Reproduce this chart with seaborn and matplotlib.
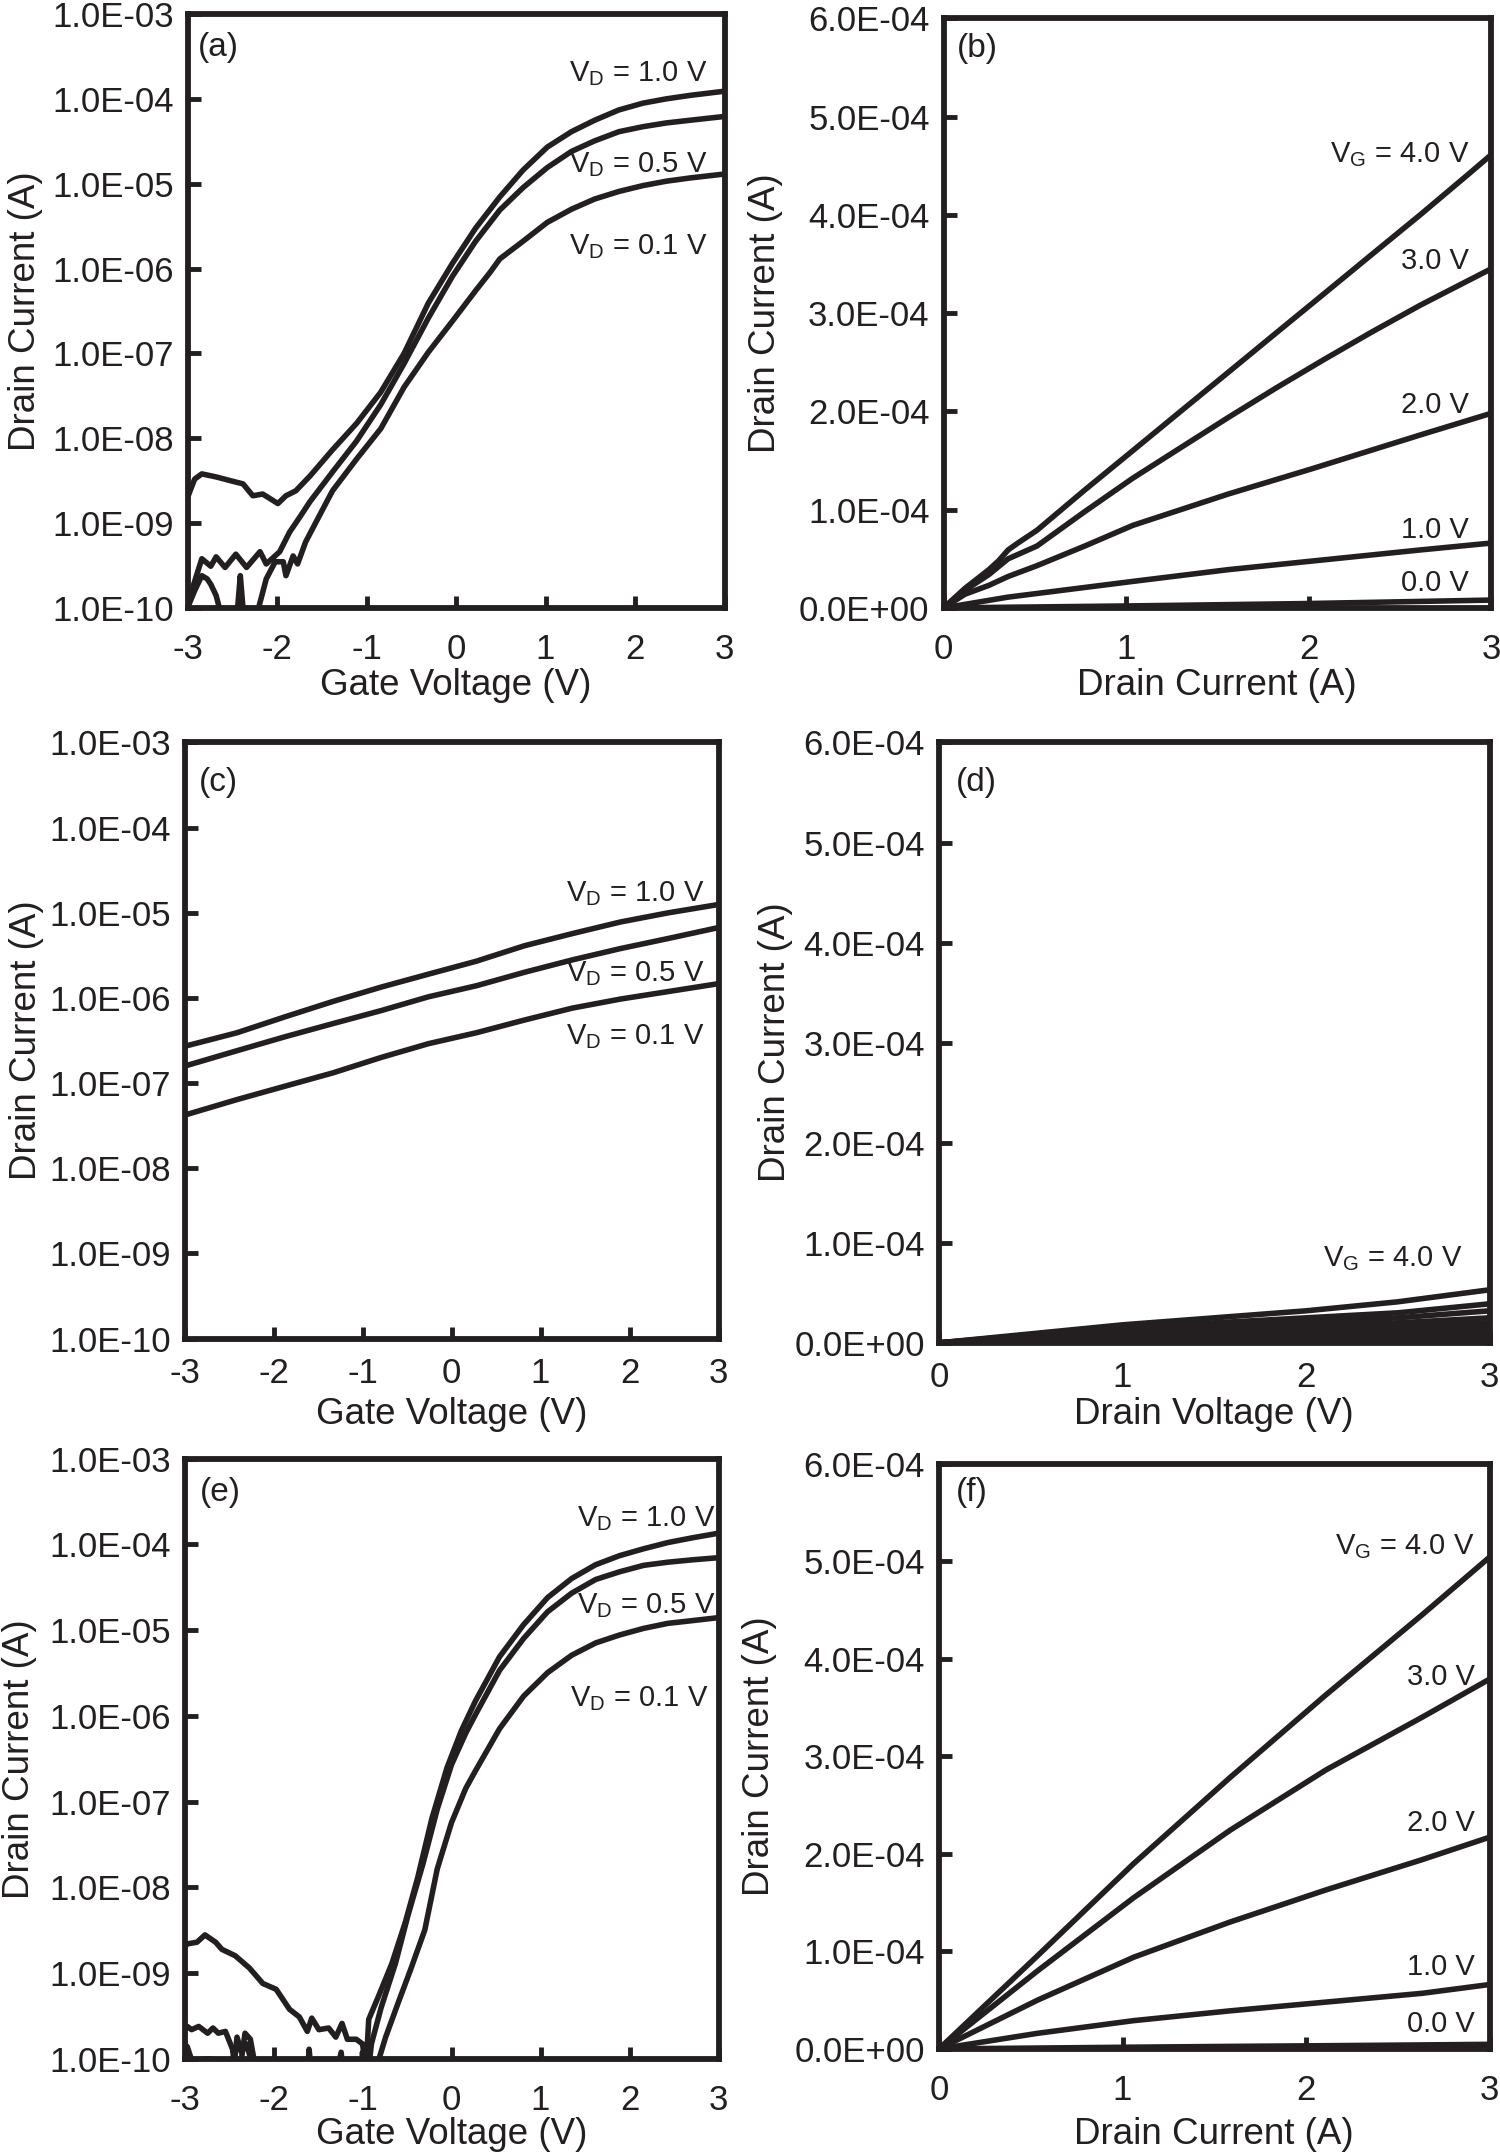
import numpy as np
import pandas as pd
import matplotlib
matplotlib.use("Agg")
import matplotlib.pyplot as plt
import seaborn as sns
from matplotlib.ticker import FixedLocator, NullLocator, FuncFormatter

# ---------------- data ----------------
# Panel (a): transfer curves (log scale)
a_vg_10 = [-3.0, -2.92, -2.84, -2.68, -2.49, -2.38, -2.27, -2.16, -1.99, -1.90, -1.79, -1.63, -1.38, -1.11,
           -0.84, -0.58, -0.31, -0.04, 0.22, 0.49, 0.75, 1.02, 1.29, 1.55, 1.82, 2.09, 2.35, 2.62, 3.0]
a_id_10 = [2.0e-9, 3.3e-9, 3.8e-9, 3.5e-9, 3.1e-9, 2.9e-9, 2.1e-9, 2.2e-9, 1.7e-9, 2.1e-9, 2.4e-9, 3.6e-9,
           7.3e-9, 1.5e-8, 3.5e-8, 1.0e-7, 3.9e-7, 1.15e-6, 3.0e-6, 7.0e-6, 1.45e-5, 2.7e-5, 4.1e-5, 5.6e-5,
           7.4e-5, 8.9e-5, 1.0e-4, 1.1e-4, 1.23e-4]
a_vg_05 = [-3.0, -2.97, -2.84, -2.74, -2.68, -2.58, -2.46, -2.34, -2.19, -2.12, -1.97, -1.86, -1.74, -1.63,
           -1.38, -1.11, -0.84, -0.58, -0.31, -0.04, 0.22, 0.49, 0.75, 1.02, 1.29, 1.55, 1.82, 2.09, 2.35,
           2.62, 3.0]
a_id_05 = [1.0e-10, 1.4e-10, 3.8e-10, 3.1e-10, 4.0e-10, 3.0e-10, 4.3e-10, 3.0e-10, 4.6e-10, 3.3e-10,
           4.6e-10, 7.8e-10, 1.2e-9, 1.8e-9, 4.0e-9, 9.3e-9, 2.5e-8, 7.6e-8, 2.6e-7, 8.1e-7, 2.1e-6, 4.9e-6,
           9.0e-6, 1.55e-5, 2.4e-5, 3.2e-5, 4.1e-5, 4.7e-5, 5.2e-5, 5.6e-5, 6.2e-5]
a_vg_01 = [-3.0, -2.92, -2.84, -2.78, -2.74, -2.68, -2.62, -2.50, -2.44, -2.41, -2.38, -2.32, -2.23, -2.12,
           -2.02, -1.93, -1.90, -1.82, -1.77, -1.68, -1.57, -1.38, -1.11, -0.84, -0.58, -0.31, -0.04, 0.22,
           0.38, 0.49, 0.75, 1.02, 1.29, 1.55, 1.82, 2.09, 2.35, 2.62, 3.0]
a_id_01 = [1.0e-10, 1.6e-10, 2.4e-10, 2.2e-10, 1.9e-10, 1.4e-10, 8e-11, 4e-11, 1.0e-10, 2.4e-10, 1.0e-10,
           4e-11, 8e-11, 2.2e-10, 3.5e-10, 3.5e-10, 2.4e-10, 4.1e-10, 3.3e-10, 6.0e-10, 1.0e-9, 2.4e-9,
           5.7e-9, 1.3e-8, 4.0e-8, 1.03e-7, 2.4e-7, 5.5e-7, 9.0e-7, 1.3e-6, 2.1e-6, 3.5e-6, 5.0e-6, 6.6e-6,
           8.1e-6, 9.5e-6, 1.07e-5, 1.17e-5, 1.3e-5]

# Panel (b): output curves
b_vd_40 = [0, 0.118, 0.249, 0.302, 0.354, 0.407, 0.512, 0.774, 1.037, 1.299, 1.562, 1.824, 2.087, 2.349,
           2.612, 2.874, 3.0]
b_id_40 = [0, 2.0e-5, 3.9e-5, 4.8e-5, 5.9e-5, 6.6e-5, 7.9e-5, 1.20e-4, 1.60e-4, 2.00e-4, 2.40e-4, 2.80e-4,
           3.20e-4, 3.60e-4, 4.00e-4, 4.41e-4, 4.61e-4]
b_vd_30 = [0, 0.118, 0.249, 0.354, 0.512, 0.774, 1.037, 1.299, 1.562, 1.824, 2.087, 2.349, 2.612, 2.874, 3.0]
b_id_30 = [0, 1.8e-5, 3.4e-5, 5.0e-5, 6.3e-5, 9.8e-5, 1.32e-4, 1.63e-4, 1.94e-4, 2.24e-4, 2.53e-4, 2.81e-4,
           3.08e-4, 3.33e-4, 3.45e-4]
b_vd_20 = [0, 0.118, 0.249, 0.354, 0.512, 0.774, 1.037, 1.562, 2.008, 2.612, 3.0]
b_id_20 = [0, 1.4e-5, 2.3e-5, 3.2e-5, 4.3e-5, 6.3e-5, 8.4e-5, 1.16e-4, 1.41e-4, 1.76e-4, 1.98e-4]
b_vd_10 = [0, 0.354, 1.037, 1.562, 2.087, 2.612, 3.0]
b_id_10 = [0, 1.1e-5, 2.7e-5, 3.9e-5, 4.9e-5, 5.9e-5, 6.6e-5]
b_vd_00 = [0, 1.0, 2.0, 3.0]
b_id_00 = [0, 2.0e-6, 4.5e-6, 8.0e-6]

# Panel (c)
c_vg = [-3.0, -2.41, -1.87, -1.33, -0.79, -0.26, 0.28, 0.82, 1.36, 1.90, 2.44, 3.0]
c_id_10 = [2.7e-7, 3.9e-7, 6.0e-7, 9.1e-7, 1.34e-6, 1.9e-6, 2.7e-6, 4.1e-6, 5.7e-6, 7.8e-6, 1.0e-5, 1.25e-5]
c_id_05 = [1.58e-7, 2.4e-7, 3.5e-7, 5.0e-7, 7.1e-7, 1.03e-6, 1.39e-6, 2.0e-6, 2.8e-6, 3.8e-6, 5.0e-6, 6.7e-6]
c_id_01 = [4.2e-8, 6.4e-8, 9.2e-8, 1.32e-7, 2.0e-7, 2.9e-7, 3.9e-7, 5.5e-7, 7.6e-7, 9.7e-7, 1.19e-6, 1.47e-6]

# Panel (d)
d_vd = [0, 0.5, 1.0, 1.5, 2.0, 2.5, 3.0]
d_id_40 = [0, 0.9e-5, 1.8e-5, 2.5e-5, 3.2e-5, 4.1e-5, 5.3e-5]
d_id_35 = [0, 0.8e-5, 1.5e-5, 2.0e-5, 2.5e-5, 3.0e-5, 3.9e-5]
d_id_30 = [0, 0.7e-5, 1.3e-5, 1.7e-5, 2.1e-5, 2.5e-5, 3.2e-5]
d_id_25 = [0, 0.6e-5, 1.1e-5, 1.4e-5, 1.7e-5, 2.0e-5, 2.5e-5]
d_id_20 = [0, 0.5e-5, 0.9e-5, 1.15e-5, 1.4e-5, 1.6e-5, 2.0e-5]
d_id_15 = [0, 0.4e-5, 0.7e-5, 0.9e-5, 1.1e-5, 1.3e-5, 1.6e-5]
d_id_10 = [0, 0.3e-5, 0.5e-5, 0.65e-5, 0.8e-5, 0.95e-5, 1.15e-5]
d_id_05 = [0, 0.2e-5, 0.35e-5, 0.45e-5, 0.55e-5, 0.65e-5, 0.75e-5]
d_id_00 = [0, 0.1e-5, 0.18e-5, 0.25e-5, 0.3e-5, 0.35e-5, 0.4e-5]

# Panel (e)
e_vg_10 = [-3.0, -2.97, -2.86, -2.77, -2.65, -2.58, -2.43, -2.27, -2.12, -1.97, -1.82, -1.71, -1.62, -1.57,
           -1.49, -1.38, -1.30, -1.23, -1.17, -1.07, -1.0, -0.96, -0.93, -0.82, -0.67, -0.52, -0.38, -0.22,
           -0.05, 0.11, 0.27, 0.54, 0.81, 1.08, 1.35, 1.62, 1.89, 2.16, 2.43, 2.70, 3.0]
e_id_10 = [2.0e-9, 2.2e-9, 2.3e-9, 2.8e-9, 2.3e-9, 1.9e-9, 1.6e-9, 1.15e-9, 7.6e-10, 6.5e-10, 3.8e-10,
           3.1e-10, 2.1e-10, 3.0e-10, 2.2e-10, 2.3e-10, 1.8e-10, 2.6e-10, 1.7e-10, 1.7e-10, 1.5e-10, 8e-11,
           2.9e-10, 5.4e-10, 1.3e-9, 3.9e-9, 1.3e-8, 6.4e-8, 2.5e-7, 6.7e-7, 1.5e-6, 4.9e-6, 1.16e-5, 2.4e-5,
           4.0e-5, 5.8e-5, 7.4e-5, 8.9e-5, 1.05e-4, 1.19e-4, 1.35e-4]
e_vg_05 = [-3.0, -2.97, -2.92, -2.84, -2.74, -2.68, -2.62, -2.54, -2.46, -2.42, -2.36, -2.32, -2.26, -2.22,
           -2.10, -1.5, -0.95, -0.90, -0.79, -0.63, -0.49, -0.32, -0.16, 0.0, 0.16, 0.27, 0.54, 0.81, 1.08,
           1.35, 1.62, 1.89, 2.16, 2.43, 2.70, 3.0]
e_id_05 = [2.2e-10, 2.4e-10, 2.2e-10, 2.4e-10, 2.0e-10, 2.3e-10, 2.0e-10, 2.1e-10, 1.3e-10, 6e-11, 1.0e-10,
           2.0e-10, 1.7e-10, 1.0e-10, 5e-11, 5e-11, 5e-11, 1.5e-10, 4.0e-10, 1.3e-9, 4.7e-9, 1.9e-8, 8.2e-8,
           2.7e-7, 6.3e-7, 1.04e-6, 3.4e-6, 8.0e-6, 1.64e-5, 2.7e-5, 3.9e-5, 4.8e-5, 5.7e-5, 6.2e-5, 6.6e-5,
           7.0e-5]
e_vg_01 = [-3.0, -2.97, -2.93, -2.88, -2.80, -2.70, -2.55, -2.45, -2.41, -2.36, -2.30, -2.22, -2.0, -1.8,
           -1.62, -1.60, -1.57, -1.3, -1.24, -1.21, -1.02, -1.0, -0.97, -0.88, -0.74, -0.60, -0.46, -0.30,
           -0.16, 0.0, 0.16, 0.27, 0.54, 0.81, 1.08, 1.35, 1.62, 1.89, 2.16, 2.43, 2.70, 3.0]
e_id_01 = [1.1e-10, 1.4e-10, 1.05e-10, 8e-11, 1.0e-10, 1.0e-10, 9e-11, 7e-11, 1.8e-10, 1.2e-10, 1.5e-10,
           7e-11, 9e-11, 6e-11, 6e-11, 1.3e-10, 6e-11, 6e-11, 1.2e-10, 6e-11, 6e-11, 1.2e-10, 6e-11, 6e-11,
           1.8e-10, 4.5e-10, 1.1e-9, 3.2e-9, 1.65e-8, 5.7e-8, 1.43e-7, 2.3e-7, 7.1e-7, 1.7e-6, 3.2e-6, 5.1e-6,
           7.1e-6, 8.8e-6, 1.05e-5, 1.2e-5, 1.29e-5, 1.4e-5]

# Panel (f)
f_vd = [0, 0.537, 1.061, 1.585, 2.109, 2.633, 3.0]
f_id_40 = [0, 9.55e-5, 1.90e-4, 2.78e-4, 3.63e-4, 4.45e-4, 5.04e-4]
f_id_30 = [0, 8.0e-5, 1.55e-4, 2.24e-4, 2.86e-4, 3.40e-4, 3.79e-4]
f_id_20 = [0, 5.0e-5, 9.4e-5, 1.30e-4, 1.63e-4, 1.94e-4, 2.17e-4]
f_id_10 = [0, 1.6e-5, 2.9e-5, 3.9e-5, 4.8e-5, 5.7e-5, 6.6e-5]
f_id_00 = [0, 0.9e-6, 1.8e-6, 2.6e-6, 3.3e-6, 4.1e-6, 4.7e-6]

log_ticks = [1e-10, 1e-9, 1e-8, 1e-7, 1e-6, 1e-5, 1e-4, 1e-3]
lin_ticks = [0.0, 1e-4, 2e-4, 3e-4, 4e-4, 5e-4, 6e-4]

# ---------------- style ----------------
sns.set_theme(style="white")
INK = "#231f20"
plt.rcParams["font.family"] = ["Liberation Sans", "DejaVu Sans"]
plt.rcParams["mathtext.default"] = "regular"
plt.rcParams["axes.unicode_minus"] = False
plt.rcParams["text.color"] = INK
plt.rcParams["axes.labelcolor"] = INK

TICK_FS = 25
LABEL_FS = 26.5
ANN_FS = 21
PANEL_FS = 24
LW = 4.0

fig = plt.figure(figsize=(15, 21.52), dpi=100)
fig.patch.set_facecolor("white")

rects = {
    "a": [0.125, 0.7175, 0.358, 0.276],
    "b": [0.629, 0.7175, 0.365, 0.274],
    "c": [0.123, 0.378, 0.356, 0.277],
    "d": [0.626, 0.376, 0.367, 0.279],
    "e": [0.123, 0.0432, 0.356, 0.279],
    "f": [0.626, 0.0479, 0.367, 0.272],
}
ylab_x = {"a": -0.269, "b": -0.293, "c": -0.263, "d": -0.265, "e": -0.277, "f": -0.294}
xlab_y = {"a": -0.101, "b": -0.102, "c": -0.098, "d": -0.091, "e": -0.097, "f": -0.116}
xpad = {"a": 18, "b": 18, "c": 13, "d": 13, "e": 18, "f": 18}

sci_fmt = FuncFormatter(lambda v, p: f"{v:.1E}")
int_fmt = FuncFormatter(lambda v, p: f"{v:.0f}")


def style_axes(ax, key, log, xlabel):
    for s in ax.spines.values():
        s.set_visible(True)
        s.set_linewidth(4.2)
        s.set_color(INK)
    if log:
        ax.set_yscale("log")
        ax.set_ylim(1e-10, 1e-3)
        ax.yaxis.set_major_locator(FixedLocator(log_ticks))
        ax.set_xlim(-3, 3)
        ax.xaxis.set_major_locator(FixedLocator([-3, -2, -1, 0, 1, 2, 3]))
    else:
        ax.set_ylim(0, 6e-4)
        ax.yaxis.set_major_locator(FixedLocator(lin_ticks))
        ax.set_xlim(0, 3)
        ax.xaxis.set_major_locator(FixedLocator([0, 1, 2, 3]))
    ax.yaxis.set_minor_locator(NullLocator())
    ax.xaxis.set_minor_locator(NullLocator())
    ax.yaxis.set_major_formatter(sci_fmt)
    ax.xaxis.set_major_formatter(int_fmt)
    ax.tick_params(axis="both", which="major", direction="in", length=9, width=3.5,
                   color=INK, labelcolor=INK, labelsize=TICK_FS, top=False, right=False,
                   bottom=True, left=True)
    ax.tick_params(axis="y", pad=10)
    ax.tick_params(axis="x", pad=xpad[key])
    ax.set_ylabel("Drain Current (A)", fontsize=LABEL_FS)
    ax.set_xlabel(xlabel, fontsize=LABEL_FS)
    ax.yaxis.set_label_coords(ylab_x[key], 0.5)
    ax.xaxis.set_label_coords(0.5, xlab_y[key])
    ax.set_facecolor("white")
    ax.grid(False)


def draw(ax, xs, ys):
    sns.lineplot(x=xs, y=ys, ax=ax, color=INK, linewidth=LW, estimator=None, sort=False,
                 legend=False, solid_joinstyle="round", solid_capstyle="butt")


axes = {k: fig.add_axes(r) for k, r in rects.items()}

# (a)
ax = axes["a"]
draw(ax, a_vg_10, a_id_10)
draw(ax, a_vg_05, a_id_05)
draw(ax, a_vg_01, a_id_01)
style_axes(ax, "a", True, "Gate Voltage (V)")
ax.text(0.020, 0.943, "(a)", transform=ax.transAxes, fontsize=PANEL_FS, va="center", ha="left")
ax.text(0.968, 0.899, r"V$_\mathregular{D}$ = 1.0 V", transform=ax.transAxes, fontsize=ANN_FS, va="center", ha="right")
ax.text(0.968, 0.746, r"V$_\mathregular{D}$ = 0.5 V", transform=ax.transAxes, fontsize=ANN_FS, va="center", ha="right")
ax.text(0.968, 0.608, r"V$_\mathregular{D}$ = 0.1 V", transform=ax.transAxes, fontsize=ANN_FS, va="center", ha="right")

# (b)
ax = axes["b"]
for xs, ys in [(b_vd_40, b_id_40), (b_vd_30, b_id_30), (b_vd_20, b_id_20), (b_vd_10, b_id_10), (b_vd_00, b_id_00)]:
    draw(ax, xs, ys)
style_axes(ax, "b", False, "Drain Current (A)")
ax.text(0.024, 0.949, "(b)", transform=ax.transAxes, fontsize=PANEL_FS, va="center", ha="left")
ax.text(0.96, 0.768, r"V$_\mathregular{G}$ = 4.0 V", transform=ax.transAxes, fontsize=ANN_FS, va="center", ha="right")
ax.text(0.96, 0.588, "3.0 V", transform=ax.transAxes, fontsize=ANN_FS, va="center", ha="right")
ax.text(0.96, 0.344, "2.0 V", transform=ax.transAxes, fontsize=ANN_FS, va="center", ha="right")
ax.text(0.96, 0.132, "1.0 V", transform=ax.transAxes, fontsize=ANN_FS, va="center", ha="right")
ax.text(0.96, 0.042, "0.0 V", transform=ax.transAxes, fontsize=ANN_FS, va="center", ha="right")

# (c)
ax = axes["c"]
for ys in [c_id_10, c_id_05, c_id_01]:
    draw(ax, c_vg, ys)
style_axes(ax, "c", True, "Gate Voltage (V)")
ax.text(0.026, 0.933, "(c)", transform=ax.transAxes, fontsize=PANEL_FS, va="center", ha="left")
ax.text(0.974, 0.747, r"V$_\mathregular{D}$ = 1.0 V", transform=ax.transAxes, fontsize=ANN_FS, va="center", ha="right")
ax.text(0.974, 0.613, r"V$_\mathregular{D}$ = 0.5 V", transform=ax.transAxes, fontsize=ANN_FS, va="center", ha="right")
ax.text(0.974, 0.506, r"V$_\mathregular{D}$ = 0.1 V", transform=ax.transAxes, fontsize=ANN_FS, va="center", ha="right")

# (d)
ax = axes["d"]
for ys in [d_id_40, d_id_35, d_id_30, d_id_25, d_id_20, d_id_15, d_id_10, d_id_05, d_id_00]:
    draw(ax, d_vd, ys)
style_axes(ax, "d", False, "Drain Voltage (V)")
ax.text(0.031, 0.933, "(d)", transform=ax.transAxes, fontsize=PANEL_FS, va="center", ha="left")
ax.text(0.951, 0.141, r"V$_\mathregular{G}$ = 4.0 V", transform=ax.transAxes, fontsize=ANN_FS, va="center", ha="right")

# (e)
ax = axes["e"]
draw(ax, e_vg_10, e_id_10)
draw(ax, e_vg_05, e_id_05)
draw(ax, e_vg_01, e_id_01)
style_axes(ax, "e", True, "Gate Voltage (V)")
ax.text(0.028, 0.943, "(e)", transform=ax.transAxes, fontsize=PANEL_FS, va="center", ha="left")
ax.text(0.994, 0.90, r"V$_\mathregular{D}$ = 1.0 V", transform=ax.transAxes, fontsize=ANN_FS, va="center", ha="right")
ax.text(0.994, 0.755, r"V$_\mathregular{D}$ = 0.5 V", transform=ax.transAxes, fontsize=ANN_FS, va="center", ha="right")
ax.text(0.98, 0.60, r"V$_\mathregular{D}$ = 0.1 V", transform=ax.transAxes, fontsize=ANN_FS, va="center", ha="right")

# (f)
ax = axes["f"]
for ys in [f_id_40, f_id_30, f_id_20, f_id_10, f_id_00]:
    draw(ax, f_vd, ys)
style_axes(ax, "f", False, "Drain Current (A)")
ax.text(0.031, 0.95, "(f)", transform=ax.transAxes, fontsize=PANEL_FS, va="center", ha="left")
ax.text(0.973, 0.858, r"V$_\mathregular{G}$ = 4.0 V", transform=ax.transAxes, fontsize=ANN_FS, va="center", ha="right")
ax.text(0.973, 0.636, "3.0 V", transform=ax.transAxes, fontsize=ANN_FS, va="center", ha="right")
ax.text(0.973, 0.386, "2.0 V", transform=ax.transAxes, fontsize=ANN_FS, va="center", ha="right")
ax.text(0.973, 0.14, "1.0 V", transform=ax.transAxes, fontsize=ANN_FS, va="center", ha="right")
ax.text(0.973, 0.043, "0.0 V", transform=ax.transAxes, fontsize=ANN_FS, va="center", ha="right")

fig.savefig("out.png", dpi=100, facecolor="white")
